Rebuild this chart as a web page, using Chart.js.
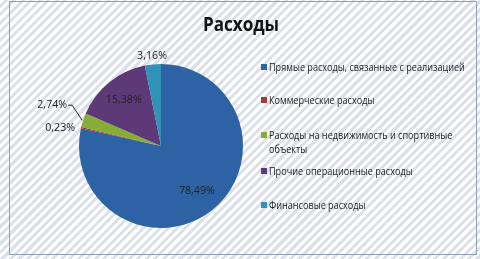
<!DOCTYPE html>
<html>
<head>
<meta charset="utf-8">
<script src="https://cdn.jsdelivr.net/npm/chart.js@4/dist/chart.umd.min.js"></script>
<style>
  html, body { margin: 0; padding: 0; }
  body {
    width: 480px; height: 259px; position: relative; overflow: hidden;
    background: repeating-linear-gradient(135deg, #ffffff 0px, #ffffff 3px, #dce0e8 3px, #dce0e8 6px);
    font-family: "Open Sans", sans-serif;
  }
  #frame {
    position: absolute; left: 9px; top: 1px; width: 466px; height: 252px;
    border: 1px solid #8ea0bb;
  }
  #wrap { position: absolute; left: 0; top: 0; width: 480px; height: 259px; }
  #title {
    position: absolute; left: 241px; top: 10px; white-space: nowrap;
    font: bold 20px "Open Sans", sans-serif; color: #111; transform-origin: 0 0;
  }
  #legend { position: absolute; left: 261px; top: 0; font-size: 11px; color: #222; }
  .item { position: absolute; left: 0; white-space: nowrap; line-height: 14px; }
  .item i { position: absolute; left: 0; top: 4px; width: 6px; height: 6px; }
  .item span { display: inline-block; margin-left: 8px; transform-origin: 0 0; }
</style>
</head>
<body>
<div id="frame"></div>
<div id="wrap"><canvas id="chartPie" width="480" height="259"></canvas></div>
<div id="title">Расходы</div>
<div id="legend"></div>
<script>
// data
const categories = [
  "Прямые расходы, связанные с реализацией",
  "Коммерческие расходы",
  "Расходы на недвижимость и спортивные объекты",
  "Прочие операционные расходы",
  "Финансовые расходы"
];
const values = [78.49, 0.23, 2.74, 15.38, 3.16];
const valueLabels = ["78,49%", "0,23%", "2,74%", "15,38%", "3,16%"];
const colors = ["#2d63a5", "#a83838", "#86ad38", "#5d3a77", "#2e93b6"];

// title: squeeze to calibri-like width
const title = document.getElementById("title");
const tw = title.offsetWidth, tk = 76 / tw;
title.style.transform = "translateX(" + (-38) + "px) scaleX(" + tk + ")";

// legend (html)
const legendTops = [60, 93, 128, 164, 198];
const legendWrap = ["", "", "Расходы на недвижимость и спортивные<br>объекты", "", ""];
const legendBox = document.getElementById("legend");
let spans = [];
categories.forEach((c, i) => {
  let d = document.createElement("div");
  d.className = "item";
  d.style.top = legendTops[i] + "px";
  d.innerHTML = '<i style="background:' + colors[i] + '"></i><span>' + (legendWrap[i] || c) + '</span>';
  legendBox.appendChild(d);
  spans.push(d.querySelector("span"));
});
const lk = 196 / spans[0].offsetWidth;
spans.forEach(s => s.style.transform = "scaleX(" + lk + ")");

// label placement per slice: radius factor, alignment, optional leader line
const labelPlace = [
  { r: 0.70, align: "center" },
  { r: 1.0, align: "right", dx: -6, dy: 0 },
  { r: 1.0, align: "right", leader: true },
  { r: 0.72, align: "center" },
  { r: 1.1, align: "center" }
];

const pieLabels = {
  id: "pieLabels",
  afterDatasetsDraw(chart) {
    const ctx = chart.ctx;
    const meta = chart.getDatasetMeta(0);
    ctx.save();
    ctx.font = "11px 'Open Sans', sans-serif";
    const k = 36 / ctx.measureText("78,49%").width;
    ctx.fillStyle = "#222";
    ctx.textBaseline = "middle";
    meta.data.forEach((arc, i) => {
      const p = labelPlace[i];
      const mid = (arc.startAngle + arc.endAngle) / 2;
      const R = arc.outerRadius;
      let x = arc.x + Math.cos(mid) * R * p.r;
      let y = arc.y + Math.sin(mid) * R * p.r;
      if (p.leader) {
        const ex = x - 11, ey = y - 15;
        ctx.strokeStyle = "#222";
        ctx.lineWidth = 1;
        ctx.beginPath();
        ctx.moveTo(x - 1, y);
        ctx.lineTo(ex, ey);
        ctx.lineTo(ex - 4, ey);
        ctx.stroke();
        x = ex - 5; y = ey;
      } else {
        x += p.dx || 0; y += p.dy || 0;
      }
      ctx.save();
      ctx.translate(x, y);
      ctx.scale(k, 1);
      ctx.textAlign = p.align;
      ctx.fillText(valueLabels[i], 0, 0);
      ctx.restore();
    });
    ctx.restore();
  }
};

const configPie = {
  type: "pie",
  data: {
    labels: categories,
    datasets: [{
      data: values,
      backgroundColor: colors,
      borderWidth: 0
    }]
  },
  options: {
    responsive: false,
    animation: false,
    layout: { padding: { left: 79, right: 237, top: 64, bottom: 31 } },
    plugins: {
      legend: { display: false },
      tooltip: { enabled: false }
    }
  },
  plugins: [pieLabels]
};

var chartPie = new Chart(document.getElementById("chartPie"), configPie);
</script>
</body>
</html>
